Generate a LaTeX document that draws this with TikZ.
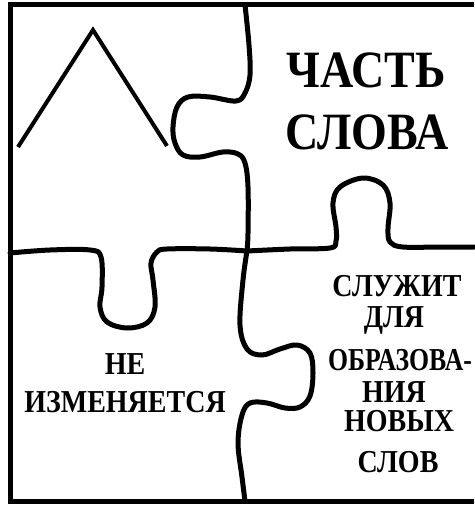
\documentclass[tikz,border=0pt]{standalone}
\usepackage{fontspec}
\setmainfont{Liberation Serif}
\usepackage{graphicx}
\newcommand{\stretchtxt}[2][1]{\scalebox{#1}[1.14]{#2}}

\begin{document}
\begin{tikzpicture}[x=1pt,y=-1pt,
		cut/.style={line width=5pt,line join=round,line cap=round},
		big/.style={font=\fontsize{46}{50}\selectfont\bfseries,inner sep=0pt},
		small/.style={font=\fontsize{28}{30}\selectfont\bfseries,inner sep=0pt}]
		\useasboundingbox[fill=white] (0,0) rectangle (474,508);
		\draw[line width=5pt] (474,5) -- (10,5) -- (10,501) -- (474,501);
		\draw[cut] plot[smooth,tension=0.6] coordinates {(245,5) (249,45) (250,75) (245,93) (236,101) (210,97) (188,97) (177,107) (173,127) (175,143) (183,155) (200,157) (223,152) (238,154) (245,163) (248,187) (248,233) (247,251)};
		\draw[cut] plot[smooth,tension=0.6] coordinates {(10,253) (50,250) (90,250) (101,257) (102,287) (100,307) (107,322) (127,328) (147,323) (155,307) (153,280) (151,263) (157,252) (167,249) (210,249) (247,251)};
		\draw[cut] plot[smooth,tension=0.6] coordinates {(247,251) (290,249) (330,248) (336,241) (336,227) (333,203) (340,187) (363,178) (383,185) (390,203) (388,228) (390,242) (403,247) (440,247) (474,247)};
		\draw[cut] plot[smooth,tension=0.6] coordinates {(247,251) (243,280) (240,325) (247,349) (262,355) (280,349) (297,345) (310,353) (313,373) (310,396) (300,407) (285,408) (267,403) (250,403) (242,415) (238,443) (242,477) (245,501)};
		\draw[line width=4pt] (18,147) -- (93,30) -- (167,146);
		\node[big] (chast) at (366,70) {\stretchtxt{ЧАСТЬ}};
		\node[big] (slova) at (367,132) {\stretchtxt{СЛОВА}};
		\node[small] (ne) at (125,364) {\stretchtxt{НЕ}};
		\node[small] (izm) at (125,402) {\stretchtxt{ИЗМЕНЯЕТСЯ}};
		\node[small] (sl) at (397,286) {\stretchtxt{СЛУЖИТ}};
		\node[small] (dl) at (394,320) {\stretchtxt{ДЛЯ}};
		\node[small] (obr) at (400,360) {\stretchtxt[0.92]{ОБРАЗОВА-}};
		\node[small] (nia) at (394,392) {\stretchtxt{НИЯ}};
		\node[small] (nov) at (399,421) {\stretchtxt{НОВЫХ}};
		\node[small] (slv) at (398,462) {\stretchtxt{СЛОВ}};
	\end{tikzpicture}
\end{document}
